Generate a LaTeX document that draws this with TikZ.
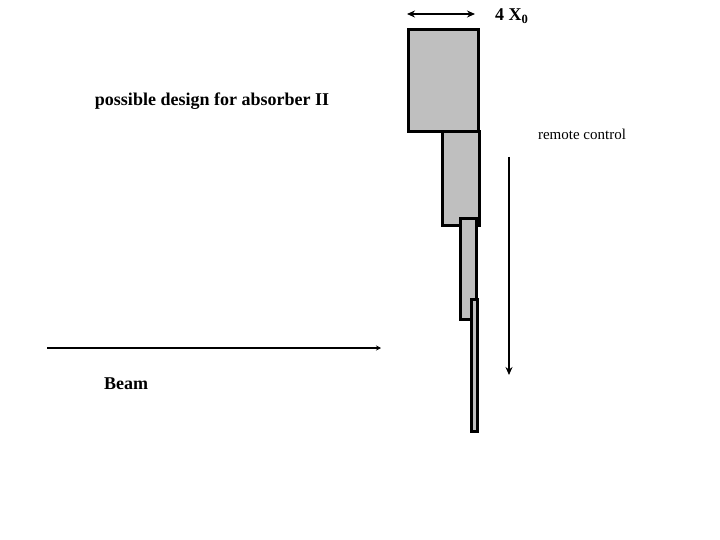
\documentclass[tikz,border=0pt]{standalone}
\usepackage{fontspec}
\setmainfont{Liberation Serif}
\usetikzlibrary{arrows.meta}
\begin{document}
\begin{tikzpicture}[x=1pt,y=-1pt,
  blk/.style={draw=black,fill=black!25,line width=3pt},
  lbl/.style={font=\bfseries\fontsize{18}{20}\selectfont,inner sep=0pt},
  arr/.style={line width=2.6pt,-{Stealth[length=8pt,width=7pt]}}]
\useasboundingbox (0,0) rectangle (720,540);
\node[blk,minimum width=70pt,minimum height=102pt,inner sep=0pt,anchor=north west] (b1) at (407,28) {};
\node[blk,minimum width=37pt,minimum height=94pt,inner sep=0pt,anchor=north west] (b2) at (441,130) {};
\node[blk,minimum width=16pt,minimum height=101pt,inner sep=0pt,anchor=north west] (b3) at (459,217) {};
\node[blk,minimum width=6pt,minimum height=132pt,inner sep=0pt,anchor=north west] (b4) at (470,298) {};
\coordinate (dl) at (407,14); \coordinate (dr) at (475,14);
\draw[arr,{Stealth[length=8pt,width=7pt]}-{Stealth[length=8pt,width=7pt]}] (dl) -- (dr);
\node[lbl,anchor=west] (x0) at (495,16) {4 X\textsubscript{0}};
\node[lbl] (t1) at (212,101) {possible design for absorber II};
\node[font=\fontsize{15}{17}\selectfont,inner sep=0pt] (rc) at (582,134) {remote control};
\coordinate (ra) at (509,157); \coordinate (rb) at (509,375);
\draw[arr] (ra) -- (rb);
\coordinate (ba) at (47,348); \coordinate (bb) at (381,348);
\draw[line width=2.6pt,-{Stealth[length=5pt,width=5pt]}] (ba) -- (bb);
\node[lbl] (beam) at (126,384) {Beam};
\end{tikzpicture}
\end{document}
